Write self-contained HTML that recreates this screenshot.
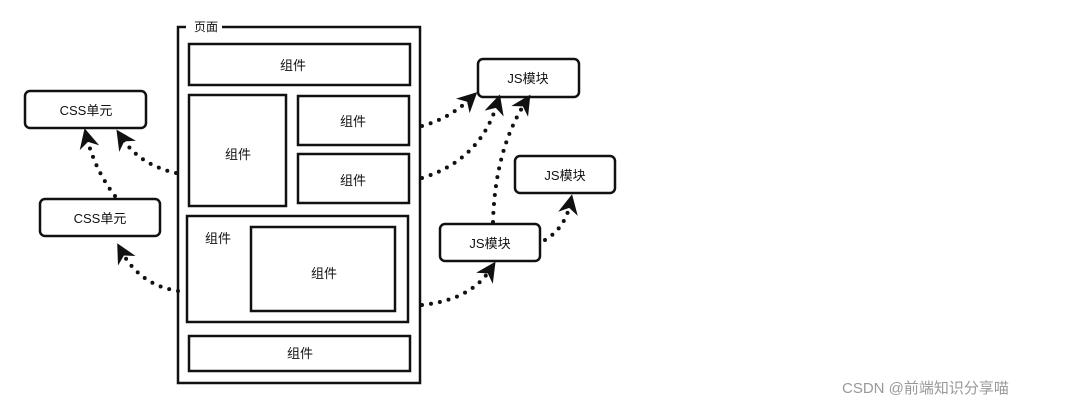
<!DOCTYPE html>
<html><head><meta charset="utf-8"><style>
html,body{margin:0;padding:0;background:#fff;}
body{width:1069px;height:407px;position:relative;overflow:hidden;font-family:"Liberation Sans","Noto Sans CJK SC",sans-serif;}
.wm{position:absolute;left:842px;top:377px;font-size:15px;color:#999;}
</style></head><body>
<svg width="1069" height="407" style="position:absolute;left:0;top:0" font-family="Liberation Sans, Noto Sans CJK SC, sans-serif">
<defs>
<marker id="a" viewBox="0 0 10 10" refX="5" refY="5" markerWidth="5" markerHeight="5" orient="auto-start-reverse">
<path d="M0,0 L10,5 L0,10 L3,5 Z" fill="#111"/></marker>
</defs>
<g fill="none" stroke="#111" stroke-width="2.5">
<path d="M186,27 H178 V383 H420 V27 H222"/>
<rect x="189" y="44" width="221" height="41"/>
<rect x="189" y="95" width="97" height="111"/>
<rect x="298" y="96" width="111" height="49"/>
<rect x="298" y="154" width="111" height="49"/>
<rect x="187" y="216" width="221" height="106"/>
<rect x="251" y="227" width="144" height="84"/>
<rect x="189" y="336" width="221" height="35"/>
<rect x="25" y="91" width="121" height="37" rx="5"/>
<rect x="40" y="199" width="120" height="37" rx="5"/>
<rect x="478" y="59" width="101" height="38" rx="5"/>
<rect x="515" y="156" width="100" height="37" rx="5"/>
<rect x="440" y="224" width="100" height="37" rx="5"/>
</g>
<g fill="none" stroke="#111" stroke-width="4" stroke-linecap="round" stroke-dasharray="0 9" marker-end="url(#a)">
<path d="M176,173 Q140,165 122,138"/>
<path d="M115,196 Q95,170 87,138"/>
<path d="M178,291 Q140,285 122,252"/>
<path d="M422,126 Q450,118 470,99"/>
<path d="M422,178 Q480,160 497,104"/>
<path d="M493,222 Q495,150 525,103"/>
<path d="M422,305 Q470,300 490,270"/>
<path d="M545,240 Q565,228 570,204"/>
</g>
<g font-size="13" fill="#111" text-anchor="middle">
<text x="206" y="31" font-size="12">页面</text>
<text x="293" y="70">组件</text>
<text x="238" y="159">组件</text>
<text x="353" y="126">组件</text>
<text x="353" y="185">组件</text>
<text x="218" y="243">组件</text>
<text x="324" y="278">组件</text>
<text x="300" y="358">组件</text>
<text x="86" y="115">CSS单元</text>
<text x="100" y="223">CSS单元</text>
<text x="528" y="83">JS模块</text>
<text x="565" y="180">JS模块</text>
<text x="490" y="248">JS模块</text>
</g>
<rect x="190" y="20" width="32" height="14" fill="none"/>
</svg>
<div class="wm">CSDN @前端知识分享喵</div>
</body></html>
